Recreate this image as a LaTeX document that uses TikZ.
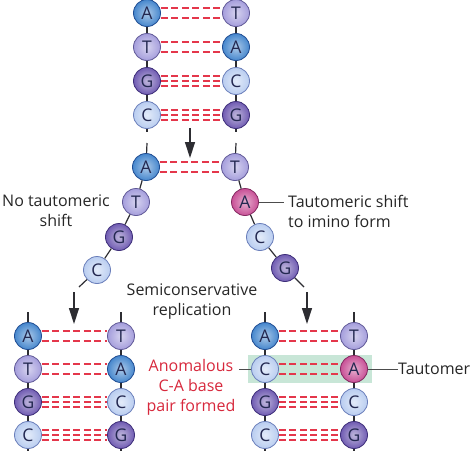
\documentclass[tikz,border=0pt]{standalone}
\usepackage{fontspec}
\setmainfont{Open Sans}
\usetikzlibrary{arrows.meta}
\definecolor{cA}{RGB}{70,135,205}
\definecolor{cAo}{RGB}{30,75,145}
\definecolor{cT}{RGB}{165,158,220}
\definecolor{cTo}{RGB}{95,88,150}
\definecolor{cG}{RGB}{112,92,178}
\definecolor{cGo}{RGB}{60,45,120}
\definecolor{cC}{RGB}{185,205,240}
\definecolor{cCo}{RGB}{105,125,185}
\definecolor{cM}{RGB}{200,80,150}
\definecolor{cMo}{RGB}{130,40,95}
\definecolor{letterc}{RGB}{35,40,80}
\definecolor{hbred}{RGB}{228,55,75}
\definecolor{strandc}{RGB}{45,45,50}
\definecolor{hilite}{RGB}{200,230,215}
\definecolor{anomred}{RGB}{215,40,60}
\tikzset{
  base/.style={circle, minimum size=27pt, inner sep=0pt, line width=0.8pt,
    text=letterc, font=\fontsize{17.5}{17.5}\selectfont},
  bA/.style={base, draw=cAo, inner color=cA!45!white, outer color=cA},
  bT/.style={base, draw=cTo, inner color=cT!45!white, outer color=cT},
  bG/.style={base, draw=cGo, inner color=cG!45!white, outer color=cG},
  bC/.style={base, draw=cCo, inner color=cC!40!white, outer color=cC},
  bM/.style={base, draw=cMo, inner color=cM!45!white, outer color=cM},
  strand/.style={draw=strandc, line width=1.2pt},
  hb/.style={draw=hbred, line width=1.3pt, dash pattern=on 7pt off 3.5pt},
  lbl/.style={font=\fontsize{16}{20}\selectfont, text=black!85, inner sep=0pt},
  arr/.style={draw=strandc, line width=1.3pt, -{Triangle[length=16pt,width=10pt]}},
  leader/.style={draw=black!70, line width=0.7pt},
}
\newcommand\hbtwo[2]{%
  \draw[hb] ([yshift=5pt]#1.east) -- ([yshift=5pt]#2.west);
  \draw[hb] ([yshift=-5pt]#1.east) -- ([yshift=-5pt]#2.west);}
\newcommand\hbthree[2]{%
  \draw[hb] ([yshift=5pt]#1.east) -- ([yshift=5pt]#2.west);
  \draw[hb] (#1.east) -- (#2.west);
  \draw[hb] ([yshift=-5pt]#1.east) -- ([yshift=-5pt]#2.west);}
\begin{document}
\begin{tikzpicture}[x=1pt,y=-1pt]
\useasboundingbox (0,0) rectangle (474,451);
% highlight
\fill[hilite] (248,355) rectangle (372,383);
% top duplex
\node[bA] (L1) at (147,13) {A};
\node[bT] (L2) at (147,47) {T};
\node[bG] (L3) at (147,81) {G};
\node[bC] (L4) at (147,115) {C};
\node[bT] (R1) at (236,13) {T};
\node[bA] (R2) at (236,47) {A};
\node[bC] (R3) at (236,81) {C};
\node[bG] (R4) at (236,115) {G};
\coordinate (Ltop) at (147,0);
\coordinate (Rtop) at (236,0);
\coordinate (Lcut1) at (147,132);
\coordinate (Lcut2) at (147,143);
\coordinate (Rcut1) at (236,132);
\coordinate (Rcut2) at (236,143);
\draw[strand] (Ltop) -- (L1) -- (L2) -- (L3) -- (L4) -- (Lcut1);
\draw[strand] (Rtop) -- (R1) -- (R2) -- (R3) -- (R4) -- (Rcut1);
\hbtwo{L1}{R1}
\hbtwo{L2}{R2}
\hbthree{L3}{R3}
\hbthree{L4}{R4}
% fork
\node[bA] (L5) at (146,167) {A};
\node[bT] (R5) at (235,167) {T};
\hbtwo{L5}{R5}
\node[bT] (LT) at (136,202) {T};
\node[bG] (LG) at (119,237) {G};
\node[bC] (LC) at (97,270) {C};
\node[bM] (RA) at (245,202) {A};
\node[bC] (RC) at (260,237) {C};
\node[bG] (RG) at (285,268) {G};
\coordinate (Lend) at (79,287);
\coordinate (Rend) at (304,287);
\draw[strand] (Lcut2) -- (L5) -- (LT) -- (LG) -- (LC) -- (Lend);
\draw[strand] (Rcut2) -- (R5) -- (RA) -- (RC) -- (RG) -- (Rend);
% arrows
\coordinate (a1s) at (190,128); \coordinate (a1e) at (190,158);
\coordinate (a2s) at (74,292);  \coordinate (a2e) at (74,324);
\coordinate (a3s) at (307,292); \coordinate (a3e) at (307,324);
\draw[arr] (a1s) -- (a1e);
\draw[arr] (a2s) -- (a2e);
\draw[arr] (a3s) -- (a3e);
% labels
\node[lbl, align=center] (nots) at (56,211) {No tautomeric\\shift};
\node[lbl, align=left, anchor=west] (ts) at (288,211) {Tautomeric shift\\to imino form};
\coordinate (tsl) at (284,202);
\draw[leader] (RA) -- (tsl);
\node[lbl, align=center] (semi) at (192,302) {Semiconservative\\replication};
% bottom left duplex
\node[bA] (BL1) at (28,336) {A};
\node[bT] (BL2) at (28,369) {T};
\node[bG] (BL3) at (28,402) {G};
\node[bC] (BL4) at (28,435) {C};
\node[bT] (BR1) at (121,336) {T};
\node[bA] (BR2) at (121,369) {A};
\node[bC] (BR3) at (121,402) {C};
\node[bG] (BR4) at (121,435) {G};
\coordinate (BLt) at (28,312); \coordinate (BLb) at (28,451);
\coordinate (BRt) at (121,312); \coordinate (BRb) at (121,451);
\draw[strand] (BLt) -- (BL1) -- (BL2) -- (BL3) -- (BL4) -- (BLb);
\draw[strand] (BRt) -- (BR1) -- (BR2) -- (BR3) -- (BR4) -- (BRb);
\hbtwo{BL1}{BR1}
\hbtwo{BL2}{BR2}
\hbthree{BL3}{BR3}
\hbthree{BL4}{BR4}
% bottom right duplex
\node[bA] (DL1) at (265,336) {A};
\node[bC] (DL2) at (265,369) {C};
\node[bG] (DL3) at (265,402) {G};
\node[bC] (DL4) at (265,435) {C};
\node[bT] (DR1) at (354,336) {T};
\node[bM] (DR2) at (354,369) {A};
\node[bC] (DR3) at (354,402) {C};
\node[bG] (DR4) at (354,435) {G};
\coordinate (DLt) at (265,312); \coordinate (DLb) at (265,451);
\coordinate (DRt) at (354,312); \coordinate (DRb) at (354,451);
\draw[strand] (DLt) -- (DL1) -- (DL2) -- (DL3) -- (DL4) -- (DLb);
\draw[strand] (DRt) -- (DR1) -- (DR2) -- (DR3) -- (DR4) -- (DRb);
\hbtwo{DL1}{DR1}
\hbtwo{DL2}{DR2}
\hbthree{DL3}{DR3}
\hbthree{DL4}{DR4}
% anomalous label
\node[lbl, align=center, text=anomred] (anom) at (191,387) {Anomalous\\C-A base\\pair formed};
\coordinate (anoml) at (239,369);
\draw[leader] (anoml) -- (DL2);
% tautomer label
\node[lbl, anchor=west] (taut) at (398,369) {Tautomer};
\draw[leader] (DR2) -- (taut);
\end{tikzpicture}
\end{document}
